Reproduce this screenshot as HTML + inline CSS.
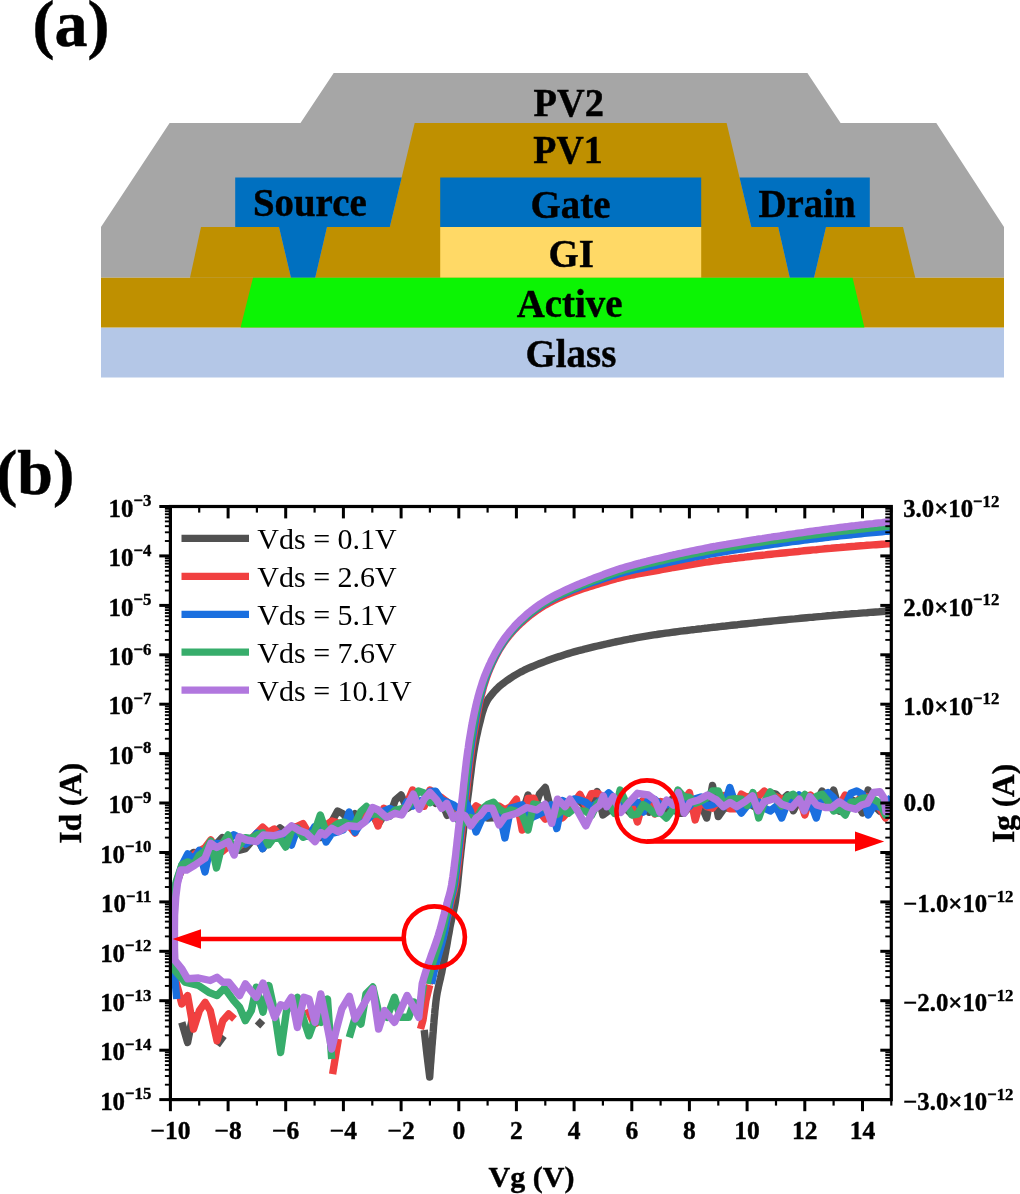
<!DOCTYPE html>
<html lang="en"><head><meta charset="utf-8"><title>TFT structure and transfer curves</title>
<style>html,body{margin:0;padding:0;background:#fff}body{width:1020px;height:1194px;overflow:hidden}svg{display:block}text{font-family:"Liberation Serif","Times New Roman",serif;fill:#000}.b{font-weight:bold;stroke:#000;stroke-width:0.5px}.lab{font-weight:bold;font-size:40px;text-anchor:middle;stroke:#000;stroke-width:0.45px}.tk{font-weight:bold;font-size:25.5px;stroke:#000;stroke-width:0.4px}.ax{font-weight:bold;font-size:30px;text-anchor:middle;stroke:#000;stroke-width:0.4px}.lg{font-size:30px}.cv{fill:none;stroke-width:7.4;stroke-linejoin:round;stroke-linecap:butt}</style></head><body>
<svg width="1020" height="1194" viewBox="0 0 1020 1194">
<rect width="1020" height="1194" fill="#fff"/>
<polygon points="101.0,327.6 1004.0,327.6 1004.0,377.4 101.0,377.4" fill="#B4C7E7"/>
<polygon points="101.0,277.8 101.0,227.1 169.6,123.0 300.5,123.0 333.7,73.0 807.4,73.0 840.6,123.0 936.3,123.0 1004.0,227.1 1004.0,277.8" fill="#A6A6A6"/>
<polygon points="101.0,277.8 1004.0,277.8 1004.0,327.6 101.0,327.6" fill="#BF9000"/>
<polygon points="190.0,277.8 201.0,227.1 279.0,227.1 291.0,277.8" fill="#BF9000"/>
<polygon points="814.0,277.8 826.0,227.1 903.0,227.1 915.3,277.8" fill="#BF9000"/>
<polygon points="315.2,277.8 327.0,227.1 389.8,227.1 414.7,123.0 726.6,123.0 751.3,227.1 778.2,227.1 789.8,277.8" fill="#BF9000"/>
<polygon points="235.2,177.4 401.7,177.4 389.8,227.1 327.0,227.1 315.2,277.8 291.0,277.8 279.0,227.1 235.2,227.1" fill="#0070C0"/>
<polygon points="739.5,177.4 869.8,177.4 869.8,227.1 826.0,227.1 814.0,277.8 789.8,277.8 778.2,227.1 751.3,227.1" fill="#0070C0"/>
<polygon points="440.2,177.4 701.2,177.4 701.2,227.1 440.2,227.1" fill="#0070C0"/>
<polygon points="440.2,227.1 701.2,227.1 701.2,277.8 440.2,277.8" fill="#FFD966"/>
<polygon points="240.6,327.6 253.0,277.8 852.6,277.8 864.4,327.6" fill="#0CF404"/>
<text class="lab" transform="translate(568.8,115.8) scale(0.960,1)">PV2</text>
<text class="lab" transform="translate(568.0,162.8) scale(0.945,1)">PV1</text>
<text class="lab" transform="translate(570.5,217.5) scale(0.972,1)">Gate</text>
<text class="lab" transform="translate(571.3,266.8) scale(0.972,1)">GI</text>
<text class="lab" transform="translate(569.6,316.8) scale(0.972,1)">Active</text>
<text class="lab" transform="translate(570.9,366.6) scale(0.972,1)">Glass</text>
<text class="lab" transform="translate(309.8,216.0) scale(0.972,1)">Source</text>
<text class="lab" transform="translate(807.0,216.7) scale(0.972,1)">Drain</text>
<text class="b" x="32.6" y="46.2" font-size="66">(a)</text>
<text class="b" x="-4" y="493.8" font-size="64">(b)</text>
<defs><clipPath id="pc"><rect x="170.4" y="506.5" width="719.9" height="593.1"/></clipPath></defs>
<g clip-path="url(#pc)">
<path class="cv" d="M170.4 943.4 L176.2 884.1 L181.9 868.6 L187.7 858.0 L193.5 852.5 L199.2 853.0 L205.0 853.5 L210.8 856.2 L216.5 843.7 L222.3 837.6 L228.1 844.5 L233.8 845.1 L239.6 850.3 L245.4 848.7 L251.1 841.8 L256.9 837.9 L262.7 848.6 L268.4 839.1 L274.2 832.6 L280.0 827.9 L285.7 832.2 L291.5 833.3 L297.3 830.6 L303.0 830.8 L308.8 832.4 L314.6 834.9 L320.3 837.6 L326.1 833.6 L331.9 821.6 L337.6 811.0 L343.4 814.0 L349.2 821.6 L355.0 813.6 L360.7 816.9 L366.5 812.3 L372.3 814.3 L378.0 824.5 L383.8 815.7 L389.6 816.3 L395.3 800.0 L401.1 795.0 L406.9 808.5 L412.6 805.0 L418.4 805.1 L424.2 802.8 L429.9 795.2 L435.7 803.5 L441.5 800.8 L447.2 815.3 L453.0 809.5 L458.8 815.2 L464.5 813.1 L470.3 817.1 L476.1 810.2 L481.8 816.0 L487.6 818.0 L493.4 817.8 L499.1 816.4 L504.9 813.2 L510.7 807.2 L516.4 813.0 L522.2 813.3 L528.0 795.0 L533.7 810.4 L539.5 794.0 L545.3 787.5 L551.0 810.5 L556.8 809.3 L562.6 808.5 L568.3 803.8 L574.1 799.8 L579.9 801.3 L585.6 806.7 L591.4 813.1 L597.2 791.5 L602.9 815.0 L608.7 810.8 L614.5 809.8 L620.2 806.7 L626.0 808.6 L631.8 814.4 L637.5 805.4 L643.3 800.3 L649.1 812.2 L654.8 807.4 L660.6 809.4 L666.4 809.5 L672.1 799.1 L677.9 813.4 L683.7 813.3 L689.4 807.0 L695.2 807.7 L701.0 804.6 L706.7 818.0 L712.5 785.5 L718.3 816.5 L724.1 808.3 L729.8 807.9 L735.6 804.4 L741.4 796.0 L747.1 800.8 L752.9 805.7 L758.7 809.1 L764.4 803.0 L770.2 793.0 L776.0 794.1 L781.7 800.5 L787.5 795.0 L793.3 810.8 L799.0 799.9 L804.8 801.3 L810.6 805.1 L816.3 802.3 L822.1 791.0 L827.9 802.3 L833.6 790.0 L839.4 811.1 L845.2 800.4 L850.9 799.3 L856.7 802.2 L862.5 813.0 L868.2 790.0 L874.0 805.1 L879.8 811.2 L885.5 804.8 L891.3 812.7" stroke="#515151"/>
<path class="cv" d="M181.8 1022.4 L187.6 1042.5 L193.5 1012.0" stroke="#515151"/>
<path class="cv" d="M217.0 1045.0 L223.7 1035.8" stroke="#515151"/>
<path class="cv" d="M257.5 1026.0 L262.5 1020.5" stroke="#515151"/>
<path class="cv" d="M424.2 1030.0 L427.0 1055.0 L429.7 1077.0 L429.9 1074.0 L430.1 1071.0 L430.3 1068.0 L430.5 1065.0 L430.8 1061.9 L431.0 1058.9 L431.2 1055.9 L431.5 1052.9 L431.7 1049.9 L431.9 1046.9 L432.2 1043.9 L432.4 1040.9 L432.7 1037.9 L432.9 1034.8 L433.2 1031.8 L433.4 1028.8 L433.6 1025.8 L433.9 1022.8 L434.1 1019.8 L434.4 1016.8 L434.7 1013.8 L434.9 1010.7 L435.3 1007.7 L435.6 1004.7 L435.9 1001.8 L436.3 998.8 L436.7 995.8 L437.2 992.8 L437.8 989.9 L438.4 986.9 L439.1 984.0 L439.8 981.0 L440.5 978.1 L441.1 975.1 L441.8 972.2 L442.3 969.2 L442.9 966.2 L443.5 963.3 L444.0 960.3 L444.6 957.3 L445.1 954.4 L445.7 951.4 L446.2 948.4 L446.8 945.4 L447.3 942.5 L447.8 939.5 L448.3 936.5 L448.9 933.6 L449.4 930.6 L449.9 927.6 L450.5 924.6 L451.1 921.7 L451.7 918.7 L452.4 915.8 L453.1 912.8 L453.8 909.9 L454.4 906.9 L455.0 904.0 L455.5 901.0 L455.9 898.0 L456.3 895.1 L456.7 892.1 L457.0 889.1 L457.4 886.1 L457.7 883.1 L458.0 880.0 L458.3 877.0 L458.6 874.0 L458.9 871.0 L459.2 868.0 L459.5 865.0 L459.8 862.0 L460.1 859.0 L460.5 856.0 L460.8 853.0 L461.1 850.0 L461.5 847.0 L461.8 844.0 L462.2 841.0 L462.5 838.0 L462.9 835.0 L463.3 832.0 L463.6 829.0 L464.0 826.0 L464.4 823.0 L464.8 820.0 L465.2 817.0 L465.6 814.0 L466.0 811.0 L466.4 808.1 L466.8 805.1 L467.2 802.1 L467.6 799.1 L468.0 796.1 L468.4 793.1 L468.8 790.1 L469.1 787.1 L469.5 784.1 L469.8 781.1 L470.2 778.1 L470.6 775.1 L471.0 772.1 L471.3 769.1 L471.7 766.1 L472.1 763.1 L472.5 760.1 L473.0 757.1 L473.4 754.2 L473.9 751.2 L474.4 748.2 L474.9 745.2 L475.5 742.3 L476.0 739.3 L476.6 736.3 L477.3 733.4 L477.9 730.4 L478.6 727.5 L479.3 724.6 L480.1 721.6 L480.8 718.7 L481.5 715.7 L482.3 712.8 L483.2 710.0 L484.2 707.1 L485.4 704.3 L486.7 701.6 L488.2 699.0 L490.0 696.6 L491.9 694.2 L493.9 691.9 L495.9 689.7 L498.1 687.6 L500.3 685.6 L502.7 683.7 L505.1 681.9 L507.6 680.1 L510.1 678.4 L512.6 676.7 L515.2 675.1 L517.8 673.6 L520.4 672.1 L523.1 670.8 L525.8 669.4 L528.5 668.2 L531.3 667.0 L534.1 665.8 L536.9 664.6 L539.7 663.5 L542.5 662.5 L545.4 661.4 L548.2 660.3 L551.0 659.3 L553.9 658.3 L556.7 657.3 L559.6 656.4 L562.5 655.4 L565.3 654.5 L568.2 653.6 L571.1 652.7 L574.0 651.9 L576.9 651.1 L579.8 650.3 L582.8 649.6 L585.7 648.8 L588.6 648.1 L591.6 647.4 L594.5 646.7 L597.4 646.0 L600.4 645.3 L603.3 644.7 L606.3 644.0 L609.2 643.3 L612.2 642.7 L615.1 642.0 L618.1 641.4 L621.0 640.8 L624.0 640.2 L627.0 639.6 L629.9 639.0 L632.9 638.5 L635.9 637.9 L638.8 637.4 L641.8 636.9 L644.8 636.4 L647.8 635.9 L650.7 635.4 L653.7 634.9 L656.7 634.5 L659.7 634.0 L662.7 633.6 L665.7 633.2 L668.7 632.8 L671.7 632.4 L674.7 632.0 L677.6 631.6 L680.6 631.2 L683.6 630.8 L686.6 630.5 L689.6 630.1 L692.6 629.7 L695.6 629.4 L698.6 629.0 L701.6 628.7 L704.6 628.3 L707.6 628.0 L710.6 627.6 L713.6 627.3 L716.6 627.0 L719.6 626.6 L722.6 626.3 L725.6 626.0 L728.6 625.6 L731.6 625.3 L734.6 625.0 L737.6 624.7 L740.6 624.3 L743.6 624.0 L746.6 623.7 L749.6 623.4 L752.6 623.1 L755.7 622.8 L758.7 622.4 L761.7 622.1 L764.7 621.8 L767.7 621.5 L770.7 621.2 L773.7 620.9 L776.7 620.6 L779.7 620.3 L782.7 620.0 L785.7 619.7 L788.7 619.4 L791.7 619.1 L794.7 618.9 L797.7 618.6 L800.7 618.3 L803.7 618.0 L806.7 617.7 L809.7 617.4 L812.7 617.2 L815.8 616.9 L818.8 616.6 L821.8 616.4 L824.8 616.1 L827.8 615.8 L830.8 615.6 L833.8 615.3 L836.8 615.1 L839.8 614.8 L842.8 614.6 L845.8 614.3 L848.8 614.1 L851.9 613.8 L854.9 613.6 L857.9 613.4 L860.9 613.1 L863.9 612.9 L866.9 612.7 L869.9 612.4 L872.9 612.2 L875.9 612.0 L879.0 611.8 L882.0 611.5 L885.0 611.3 L888.0 611.1 L891.0 610.9" stroke="#515151"/>
<path class="cv" d="M170.4 947.8 L176.2 883.7 L181.9 867.6 L187.7 862.5 L193.5 854.8 L199.2 851.1 L205.0 847.7 L210.8 840.0 L216.5 849.1 L222.3 851.5 L228.1 846.7 L233.8 849.1 L239.6 845.9 L245.4 842.4 L251.1 838.8 L256.9 833.0 L262.7 827.2 L268.4 832.4 L274.2 829.0 L280.0 835.5 L285.7 835.7 L291.5 827.0 L297.3 826.3 L303.0 823.6 L308.8 833.3 L314.6 830.7 L320.3 830.7 L326.1 825.1 L331.9 821.0 L337.6 822.8 L343.4 824.4 L349.2 825.9 L355.0 833.0 L360.7 818.5 L366.5 812.2 L372.3 810.0 L378.0 826.0 L383.8 808.2 L389.6 811.2 L395.3 813.5 L401.1 810.6 L406.9 804.0 L412.6 790.0 L418.4 805.0 L424.2 806.3 L429.9 790.0 L435.7 794.6 L441.5 797.6 L447.2 802.0 L453.0 811.9 L458.8 811.4 L464.5 816.1 L470.3 814.3 L476.1 805.9 L481.8 809.2 L487.6 812.8 L493.4 813.2 L499.1 806.0 L504.9 809.8 L510.7 806.7 L516.4 799.1 L522.2 830.0 L528.0 798.4 L533.7 798.2 L539.5 811.8 L545.3 819.1 L551.0 816.6 L556.8 812.2 L562.6 817.8 L568.3 811.6 L574.1 802.4 L579.9 794.5 L585.6 805.5 L591.4 793.6 L597.2 793.2 L602.9 796.4 L608.7 801.1 L614.5 798.0 L620.2 806.6 L626.0 803.7 L631.8 804.2 L637.5 822.0 L643.3 800.5 L649.1 802.8 L654.8 813.9 L660.6 801.5 L666.4 802.7 L672.1 805.0 L677.9 800.2 L683.7 801.0 L689.4 792.6 L695.2 820.0 L701.0 799.8 L706.7 806.7 L712.5 808.2 L718.3 800.9 L724.1 795.6 L729.8 808.9 L735.6 808.7 L741.4 794.2 L747.1 797.2 L752.9 795.4 L758.7 796.2 L764.4 791.0 L770.2 795.7 L776.0 796.8 L781.7 798.7 L787.5 806.0 L793.3 804.3 L799.0 796.2 L804.8 815.0 L810.6 795.1 L816.3 805.3 L822.1 796.0 L827.9 800.7 L833.6 807.3 L839.4 805.9 L845.2 795.0 L850.9 803.3 L856.7 801.8 L862.5 795.9 L868.2 797.4 L874.0 801.0 L879.8 808.3 L885.5 818.0 L891.3 801.9" stroke="#F14040"/>
<path class="cv" d="M174.0 975.0 L178.4 990.5 L181.8 1004.0 L187.6 995.6 L193.5 1029.0 L199.4 1010.7 L205.2 1002.3 L210.3 1010.7 L217.0 1040.8 L222.8 1020.7 L228.7 1014.0 L234.5 1019.0" stroke="#F14040"/>
<path class="cv" d="M332.6 1074.2 L338.4 1039.0" stroke="#F14040"/>
<path class="cv" d="M307.4 1009.0 L315.8 1027.4" stroke="#F14040"/>
<path class="cv" d="M420.5 1029.0 L423.0 1020.0 L426.0 1000.0 L429.7 985.0" stroke="#F14040"/>
<path class="cv" d="M429.3 983.8 L430.0 980.9 L430.7 978.0 L431.5 975.1 L432.2 972.2 L433.0 969.3 L433.8 966.4 L434.6 963.6 L435.5 960.7 L436.4 957.9 L437.3 955.0 L438.2 952.2 L439.1 949.4 L440.1 946.5 L441.0 943.7 L441.9 940.8 L442.7 938.0 L443.5 935.1 L444.2 932.2 L444.9 929.3 L445.6 926.4 L446.3 923.5 L446.9 920.5 L447.6 917.6 L448.2 914.7 L448.8 911.8 L449.5 908.8 L450.1 905.9 L450.8 903.0 L451.4 900.1 L452.3 897.2 L453.1 894.3 L453.9 891.3 L454.5 888.4 L455.1 885.4 L455.6 882.5 L456.0 879.5 L456.5 876.5 L456.9 873.5 L457.3 870.5 L457.7 867.5 L458.0 864.5 L458.4 861.5 L458.8 858.5 L459.2 855.5 L459.5 852.5 L459.8 849.5 L460.2 846.5 L460.5 843.5 L460.8 840.5 L461.2 837.5 L461.5 834.5 L461.8 831.5 L462.2 828.5 L462.5 825.5 L462.9 822.5 L463.3 819.5 L463.6 816.5 L464.0 813.5 L464.3 810.5 L464.7 807.5 L465.1 804.5 L465.4 801.5 L465.8 798.5 L466.1 795.5 L466.5 792.5 L466.8 789.5 L467.1 786.5 L467.4 783.5 L467.8 780.5 L468.1 777.5 L468.4 774.5 L468.8 771.5 L469.1 768.5 L469.5 765.5 L469.8 762.5 L470.2 759.5 L470.6 756.5 L471.0 753.5 L471.4 750.5 L471.9 747.5 L472.3 744.5 L472.7 741.5 L473.2 738.5 L473.7 735.6 L474.2 732.6 L474.7 729.6 L475.2 726.6 L475.8 723.6 L476.3 720.7 L476.8 717.7 L477.3 714.8 L477.9 711.8 L478.4 708.9 L479.0 705.9 L479.6 703.0 L480.3 700.0 L480.9 697.1 L481.6 694.2 L482.4 691.3 L483.1 688.4 L483.9 685.6 L484.8 682.8 L485.7 680.0 L486.6 677.3 L487.7 674.5 L488.7 671.8 L489.8 669.1 L491.0 666.4 L492.1 663.8 L493.4 661.2 L494.6 658.6 L495.9 656.0 L497.3 653.4 L498.7 650.9 L500.2 648.4 L501.8 646.0 L503.3 643.6 L505.0 641.2 L506.6 639.0 L508.4 636.7 L510.2 634.5 L512.1 632.3 L514.0 630.1 L516.0 628.1 L518.0 626.0 L520.1 624.0 L522.2 622.2 L524.3 620.3 L526.5 618.4 L528.7 616.5 L531.0 614.7 L533.4 613.0 L535.8 611.3 L538.2 609.6 L540.7 608.0 L543.1 606.4 L545.6 604.9 L548.2 603.5 L550.8 602.1 L553.4 600.8 L556.1 599.5 L558.8 598.2 L561.5 597.0 L564.3 595.9 L567.0 594.7 L569.8 593.6 L572.5 592.5 L575.3 591.5 L578.1 590.5 L580.9 589.5 L583.7 588.6 L586.5 587.7 L589.3 586.8 L592.1 585.9 L594.9 585.0 L597.8 584.1 L600.6 583.3 L603.4 582.4 L606.2 581.6 L609.1 580.7 L611.9 579.9 L614.8 579.1 L617.6 578.3 L620.5 577.6 L623.4 576.9 L626.3 576.2 L629.2 575.6 L632.1 575.0 L635.0 574.5 L637.9 573.9 L640.8 573.4 L643.8 572.8 L646.7 572.3 L649.6 571.8 L652.6 571.3 L655.5 570.8 L658.4 570.3 L661.4 569.7 L664.3 569.2 L667.3 568.6 L670.2 568.1 L673.1 567.5 L676.1 567.0 L679.0 566.5 L682.0 566.0 L684.9 565.5 L687.9 565.0 L690.9 564.5 L693.8 564.0 L696.8 563.6 L699.7 563.1 L702.7 562.6 L705.7 562.2 L708.6 561.8 L711.6 561.3 L714.6 560.9 L717.5 560.5 L720.5 560.1 L723.5 559.7 L726.5 559.3 L729.4 559.0 L732.4 558.6 L735.4 558.2 L738.4 557.9 L741.3 557.5 L744.3 557.2 L747.3 556.8 L750.3 556.5 L753.3 556.1 L756.3 555.8 L759.2 555.5 L762.2 555.2 L765.2 554.9 L768.2 554.5 L771.2 554.2 L774.2 553.9 L777.2 553.6 L780.2 553.3 L783.1 553.0 L786.1 552.7 L789.1 552.4 L792.1 552.1 L795.1 551.8 L798.1 551.5 L801.1 551.1 L804.1 550.8 L807.1 550.5 L810.0 550.2 L813.0 549.9 L816.0 549.7 L819.0 549.4 L822.0 549.1 L825.0 548.8 L828.0 548.5 L831.0 548.3 L834.0 548.0 L837.0 547.7 L840.0 547.5 L843.0 547.2 L846.0 547.0 L849.0 546.7 L852.0 546.5 L855.0 546.3 L858.0 546.0 L861.0 545.8 L864.0 545.6 L867.0 545.3 L870.0 545.1 L873.0 544.9 L876.0 544.7 L879.0 544.5 L882.0 544.3 L885.0 544.1 L888.0 543.9 L891.0 543.7" stroke="#F14040"/>
<path class="cv" d="M170.4 944.8 L176.2 883.6 L181.9 865.3 L187.7 853.9 L193.5 859.5 L199.2 850.4 L205.0 872.0 L210.8 844.4 L216.5 843.5 L222.3 843.8 L228.1 840.1 L233.8 834.7 L239.6 837.7 L245.4 844.1 L251.1 840.3 L256.9 833.2 L262.7 848.6 L268.4 837.1 L274.2 837.2 L280.0 833.5 L285.7 837.4 L291.5 845.0 L297.3 828.3 L303.0 836.5 L308.8 836.1 L314.6 826.7 L320.3 824.6 L326.1 842.0 L331.9 833.3 L337.6 831.8 L343.4 829.7 L349.2 812.0 L355.0 832.1 L360.7 823.7 L366.5 820.4 L372.3 814.9 L378.0 812.5 L383.8 811.2 L389.6 808.5 L395.3 810.9 L401.1 813.7 L406.9 801.8 L412.6 806.0 L418.4 801.4 L424.2 799.4 L429.9 791.4 L435.7 791.3 L441.5 800.0 L447.2 802.3 L453.0 804.6 L458.8 808.7 L464.5 800.0 L470.3 810.9 L476.1 832.0 L481.8 819.1 L487.6 815.5 L493.4 812.1 L499.1 811.0 L504.9 838.0 L510.7 808.1 L516.4 806.5 L522.2 804.7 L528.0 820.4 L533.7 816.5 L539.5 814.0 L545.3 811.2 L551.0 804.9 L556.8 828.5 L562.6 800.6 L568.3 803.1 L574.1 799.0 L579.9 800.1 L585.6 802.2 L591.4 807.1 L597.2 803.2 L602.9 798.4 L608.7 792.8 L614.5 798.4 L620.2 805.9 L626.0 804.5 L631.8 802.1 L637.5 802.1 L643.3 812.0 L649.1 797.7 L654.8 799.6 L660.6 804.8 L666.4 804.9 L672.1 803.0 L677.9 806.1 L683.7 796.3 L689.4 806.6 L695.2 798.8 L701.0 797.1 L706.7 805.7 L712.5 804.6 L718.3 802.2 L724.1 806.6 L729.8 787.5 L735.6 804.8 L741.4 813.0 L747.1 805.7 L752.9 803.8 L758.7 801.9 L764.4 808.2 L770.2 811.0 L776.0 806.4 L781.7 818.0 L787.5 802.6 L793.3 802.5 L799.0 794.9 L804.8 809.8 L810.6 802.5 L816.3 818.0 L822.1 795.4 L827.9 792.5 L833.6 797.6 L839.4 805.6 L845.2 805.6 L850.9 793.2 L856.7 791.0 L862.5 794.3 L868.2 815.0 L874.0 805.6 L879.8 807.1 L885.5 806.6 L891.3 797.0" stroke="#1A6FDF"/>
<path class="cv" d="M173.5 965.0 L175.0 980.5 L176.8 999.0" stroke="#1A6FDF"/>
<path class="cv" d="M431.6 983.8 L432.2 980.9 L432.8 978.0 L433.4 975.1 L434.0 972.2 L434.7 969.3 L435.4 966.4 L436.1 963.6 L436.9 960.7 L437.7 957.9 L438.5 955.0 L439.3 952.2 L440.1 949.4 L440.9 946.5 L441.7 943.7 L442.4 940.8 L443.2 938.0 L443.8 935.1 L444.5 932.2 L445.1 929.3 L445.6 926.4 L446.2 923.5 L446.7 920.5 L447.2 917.6 L447.8 914.7 L448.3 911.8 L448.8 908.8 L449.4 905.9 L449.9 903.0 L450.5 900.1 L451.3 897.2 L452.1 894.3 L452.9 891.3 L453.5 888.4 L454.1 885.4 L454.6 882.5 L455.0 879.5 L455.5 876.5 L455.9 873.5 L456.3 870.5 L456.7 867.5 L457.0 864.5 L457.4 861.5 L457.8 858.5 L458.2 855.5 L458.5 852.5 L458.8 849.5 L459.2 846.5 L459.5 843.5 L459.8 840.5 L460.2 837.5 L460.5 834.5 L460.8 831.5 L461.2 828.5 L461.5 825.5 L461.9 822.5 L462.3 819.5 L462.6 816.5 L463.0 813.5 L463.3 810.5 L463.7 807.5 L464.1 804.5 L464.4 801.5 L464.8 798.5 L465.1 795.5 L465.5 792.5 L465.8 789.5 L466.1 786.5 L466.4 783.5 L466.8 780.5 L467.1 777.5 L467.4 774.5 L467.8 771.5 L468.1 768.5 L468.5 765.5 L468.8 762.5 L469.2 759.5 L469.6 756.5 L470.0 753.5 L470.4 750.5 L470.9 747.5 L471.3 744.5 L471.7 741.5 L472.2 738.5 L472.7 735.6 L473.2 732.6 L473.7 729.6 L474.2 726.6 L474.8 723.6 L475.3 720.7 L475.8 717.7 L476.4 714.8 L476.9 711.8 L477.5 708.9 L478.1 705.9 L478.8 703.0 L479.4 700.0 L480.1 697.1 L480.8 694.2 L481.6 691.3 L482.4 688.4 L483.2 685.6 L484.1 682.7 L485.0 679.9 L486.0 677.2 L487.0 674.4 L488.1 671.6 L489.3 668.9 L490.4 666.2 L491.6 663.5 L492.9 660.9 L494.1 658.2 L495.5 655.6 L496.9 653.0 L498.3 650.5 L499.8 647.9 L501.4 645.5 L503.0 643.0 L504.6 640.6 L506.3 638.3 L508.1 635.9 L509.9 633.6 L511.8 631.4 L513.8 629.2 L515.8 627.0 L517.8 624.9 L519.9 622.8 L522.0 620.9 L524.1 618.9 L526.4 617.0 L528.6 615.1 L531.0 613.2 L533.3 611.4 L535.7 609.6 L538.2 607.9 L540.6 606.2 L543.1 604.6 L545.6 603.0 L548.2 601.5 L550.8 600.1 L553.4 598.7 L556.1 597.3 L558.8 596.0 L561.5 594.7 L564.3 593.5 L567.0 592.3 L569.8 591.1 L572.5 589.9 L575.3 588.8 L578.1 587.7 L580.9 586.6 L583.7 585.6 L586.5 584.6 L589.3 583.6 L592.1 582.6 L594.9 581.7 L597.8 580.7 L600.6 579.7 L603.4 578.8 L606.2 577.8 L609.1 576.9 L611.9 576.0 L614.8 575.1 L617.6 574.2 L620.5 573.4 L623.4 572.6 L626.3 571.8 L629.2 571.1 L632.1 570.4 L635.0 569.7 L637.9 569.1 L640.8 568.4 L643.8 567.8 L646.7 567.2 L649.6 566.6 L652.6 565.9 L655.5 565.3 L658.4 564.7 L661.4 564.1 L664.3 563.4 L667.3 562.7 L670.2 562.1 L673.1 561.5 L676.1 560.8 L679.0 560.2 L682.0 559.6 L684.9 559.0 L687.9 558.4 L690.9 557.8 L693.8 557.2 L696.8 556.6 L699.7 556.1 L702.7 555.5 L705.7 554.9 L708.6 554.4 L711.6 553.9 L714.6 553.3 L717.5 552.8 L720.5 552.3 L723.5 551.8 L726.5 551.3 L729.4 550.8 L732.4 550.4 L735.4 549.9 L738.4 549.4 L741.3 549.0 L744.3 548.5 L747.3 548.1 L750.3 547.6 L753.3 547.2 L756.3 546.7 L759.2 546.3 L762.2 545.9 L765.2 545.4 L768.2 545.0 L771.2 544.6 L774.2 544.2 L777.2 543.8 L780.2 543.4 L783.1 542.9 L786.1 542.5 L789.1 542.1 L792.1 541.7 L795.1 541.3 L798.1 541.0 L801.1 540.6 L804.1 540.2 L807.1 539.8 L810.0 539.4 L813.0 539.1 L816.0 538.7 L819.0 538.4 L822.0 538.0 L825.0 537.6 L828.0 537.3 L831.0 536.9 L834.0 536.6 L837.0 536.3 L840.0 535.9 L843.0 535.6 L846.0 535.3 L849.0 535.0 L852.0 534.7 L855.0 534.3 L858.0 534.0 L861.0 533.7 L864.0 533.4 L867.0 533.1 L870.0 532.8 L873.0 532.6 L876.0 532.3 L879.0 532.0 L882.0 531.7 L885.0 531.4 L888.0 531.2 L891.0 530.9" stroke="#1A6FDF"/>
<path class="cv" d="M170.4 943.0 L176.2 881.6 L181.9 864.6 L187.7 861.9 L193.5 864.9 L199.2 855.2 L205.0 850.9 L210.8 841.2 L216.5 868.0 L222.3 843.9 L228.1 835.0 L233.8 853.4 L239.6 845.2 L245.4 837.7 L251.1 838.4 L256.9 835.0 L262.7 832.8 L268.4 845.0 L274.2 837.2 L280.0 838.3 L285.7 847.0 L291.5 830.7 L297.3 828.3 L303.0 837.3 L308.8 835.0 L314.6 832.0 L320.3 815.0 L326.1 832.3 L331.9 828.0 L337.6 823.8 L343.4 822.0 L349.2 824.5 L355.0 823.8 L360.7 811.8 L366.5 806.4 L372.3 814.2 L378.0 813.8 L383.8 816.9 L389.6 815.9 L395.3 810.0 L401.1 808.8 L406.9 807.6 L412.6 800.6 L418.4 791.0 L424.2 793.0 L429.9 802.7 L435.7 799.5 L441.5 806.4 L447.2 808.0 L453.0 814.7 L458.8 820.8 L464.5 822.8 L470.3 817.5 L476.1 819.6 L481.8 809.3 L487.6 804.5 L493.4 802.3 L499.1 808.7 L504.9 812.8 L510.7 809.9 L516.4 811.3 L522.2 814.5 L528.0 830.0 L533.7 804.0 L539.5 805.2 L545.3 808.3 L551.0 813.0 L556.8 814.5 L562.6 810.1 L568.3 813.3 L574.1 808.7 L579.9 810.9 L585.6 811.1 L591.4 815.6 L597.2 803.8 L602.9 799.6 L608.7 803.6 L614.5 813.4 L620.2 790.0 L626.0 802.7 L631.8 815.0 L637.5 814.2 L643.3 804.6 L649.1 808.4 L654.8 813.5 L660.6 812.5 L666.4 818.0 L672.1 810.5 L677.9 790.0 L683.7 796.6 L689.4 797.3 L695.2 803.2 L701.0 801.0 L706.7 797.9 L712.5 791.0 L718.3 791.0 L724.1 805.0 L729.8 799.4 L735.6 798.6 L741.4 799.1 L747.1 805.4 L752.9 792.7 L758.7 818.0 L764.4 802.0 L770.2 792.0 L776.0 799.0 L781.7 806.0 L787.5 796.4 L793.3 794.2 L799.0 801.9 L804.8 794.4 L810.6 800.3 L816.3 796.5 L822.1 794.2 L827.9 801.2 L833.6 810.9 L839.4 808.9 L845.2 815.0 L850.9 802.2 L856.7 801.7 L862.5 798.2 L868.2 797.9 L874.0 799.5 L879.8 802.9 L885.5 815.0 L891.3 805.0" stroke="#37AD6B"/>
<path class="cv" d="M172.5 955.0 L175.0 970.5 L185.0 982.2 L198.5 985.5 L208.6 992.2 L217.0 995.6 L224.5 988.0 L233.7 1000.6 L239.6 1007.3 L245.4 1020.7 L251.3 1010.7 L256.3 987.2 L263.0 1012.3 L268.9 985.5 L274.7 1012.3 L280.6 1052.5 L286.5 1010.7 L297.4 997.3 L304.0 1020.7 L309.0 1035.8 L315.0 1019.0 L320.8 1022.4 L327.5 999.0 L331.7 1059.0" stroke="#37AD6B"/>
<path class="cv" d="M349.3 1037.4 L355.2 1017.3 L361.0 1024.0 L366.0 993.8 L372.8 987.0 L378.6 1012.0 L387.0 1017.3 L394.5 997.2 L400.4 1017.3 L408.8 1017.3 L414.0 1002.0 L419.0 1012.0 L423.5 985.0" stroke="#37AD6B"/>
<path class="cv" d="M427.2 983.8 L427.8 980.9 L428.5 978.0 L429.3 975.1 L430.0 972.2 L430.8 969.3 L431.6 966.4 L432.5 963.6 L433.4 960.7 L434.3 957.9 L435.2 955.0 L436.1 952.2 L437.0 949.4 L438.0 946.5 L438.9 943.7 L439.8 940.8 L440.6 938.0 L441.4 935.1 L442.1 932.2 L442.8 929.3 L443.6 926.4 L444.2 923.5 L444.9 920.5 L445.5 917.6 L446.2 914.7 L446.8 911.8 L447.5 908.8 L448.1 905.9 L448.8 903.0 L449.4 900.1 L450.3 897.2 L451.1 894.3 L451.9 891.3 L452.5 888.4 L453.1 885.4 L453.6 882.5 L454.0 879.5 L454.5 876.5 L454.9 873.5 L455.3 870.5 L455.7 867.5 L456.0 864.5 L456.4 861.5 L456.8 858.5 L457.2 855.5 L457.5 852.5 L457.8 849.5 L458.2 846.5 L458.5 843.5 L458.8 840.5 L459.2 837.5 L459.5 834.5 L459.8 831.5 L460.2 828.5 L460.5 825.5 L460.9 822.5 L461.3 819.5 L461.6 816.5 L462.0 813.5 L462.3 810.5 L462.7 807.5 L463.1 804.5 L463.4 801.5 L463.8 798.5 L464.1 795.5 L464.5 792.5 L464.8 789.5 L465.1 786.5 L465.4 783.5 L465.8 780.5 L466.1 777.5 L466.4 774.5 L466.8 771.5 L467.1 768.5 L467.5 765.5 L467.8 762.5 L468.2 759.5 L468.6 756.5 L469.0 753.5 L469.4 750.5 L469.9 747.5 L470.3 744.5 L470.7 741.5 L471.2 738.5 L471.7 735.6 L472.2 732.6 L472.7 729.6 L473.2 726.6 L473.8 723.6 L474.3 720.7 L474.9 717.7 L475.4 714.8 L476.0 711.8 L476.6 708.9 L477.2 705.9 L477.9 703.0 L478.6 700.0 L479.3 697.1 L480.1 694.2 L480.8 691.3 L481.7 688.4 L482.5 685.5 L483.4 682.7 L484.4 679.9 L485.4 677.1 L486.4 674.3 L487.5 671.5 L488.7 668.8 L489.9 666.1 L491.1 663.4 L492.4 660.7 L493.7 658.0 L495.0 655.4 L496.4 652.8 L497.9 650.2 L499.4 647.7 L501.0 645.1 L502.6 642.7 L504.3 640.3 L506.0 637.9 L507.8 635.6 L509.7 633.3 L511.6 631.0 L513.5 628.7 L515.6 626.6 L517.6 624.4 L519.7 622.4 L521.8 620.4 L524.0 618.4 L526.2 616.4 L528.5 614.5 L530.9 612.6 L533.2 610.8 L535.7 609.0 L538.1 607.2 L540.6 605.5 L543.1 603.9 L545.6 602.3 L548.2 600.8 L550.8 599.3 L553.4 597.9 L556.1 596.5 L558.8 595.1 L561.5 593.8 L564.3 592.6 L567.0 591.3 L569.8 590.1 L572.5 588.9 L575.3 587.7 L578.1 586.6 L580.9 585.4 L583.7 584.3 L586.5 583.2 L589.3 582.2 L592.1 581.1 L594.9 580.1 L597.8 579.0 L600.6 578.0 L603.4 577.0 L606.2 575.9 L609.1 574.9 L611.9 573.9 L614.8 573.0 L617.6 572.0 L620.5 571.1 L623.4 570.2 L626.3 569.4 L629.2 568.6 L632.1 567.8 L635.0 567.1 L637.9 566.3 L640.8 565.6 L643.8 564.9 L646.7 564.2 L649.6 563.5 L652.6 562.8 L655.5 562.1 L658.4 561.5 L661.4 560.8 L664.3 560.1 L667.3 559.4 L670.2 558.7 L673.1 558.1 L676.1 557.4 L679.0 556.8 L682.0 556.2 L684.9 555.6 L687.9 554.9 L690.9 554.3 L693.8 553.7 L696.8 553.1 L699.7 552.5 L702.7 552.0 L705.7 551.4 L708.6 550.8 L711.6 550.3 L714.6 549.7 L717.5 549.2 L720.5 548.7 L723.5 548.2 L726.5 547.7 L729.4 547.2 L732.4 546.7 L735.4 546.2 L738.4 545.7 L741.3 545.2 L744.3 544.8 L747.3 544.3 L750.3 543.8 L753.3 543.4 L756.3 542.9 L759.2 542.5 L762.2 542.0 L765.2 541.6 L768.2 541.1 L771.2 540.7 L774.2 540.3 L777.2 539.8 L780.2 539.4 L783.1 539.0 L786.1 538.6 L789.1 538.1 L792.1 537.7 L795.1 537.3 L798.1 536.9 L801.1 536.5 L804.1 536.1 L807.1 535.7 L810.0 535.2 L813.0 534.9 L816.0 534.5 L819.0 534.1 L822.0 533.7 L825.0 533.3 L828.0 532.9 L831.0 532.5 L834.0 532.2 L837.0 531.8 L840.0 531.4 L843.0 531.1 L846.0 530.7 L849.0 530.4 L852.0 530.0 L855.0 529.7 L858.0 529.4 L861.0 529.0 L864.0 528.7 L867.0 528.4 L870.0 528.1 L873.0 527.7 L876.0 527.4 L879.0 527.1 L882.0 526.8 L885.0 526.5 L888.0 526.2 L891.0 525.9" stroke="#37AD6B"/>
<path class="cv" d="M174.3 942.0 L174.6 915.0 L175.8 896.7 L177.5 883.3 L180.8 870.0 L186.7 870.0 L195.0 865.0 L205.0 858.3 L210.8 843.3 L216.7 847.5 L228.3 841.7 L234.2 855.0 L239.2 836.7 L246.7 840.0 L256.7 841.7 L263.3 835.0 L273.3 835.8 L283.3 833.3 L291.7 825.8 L298.3 830.0 L306.7 833.3 L315.0 841.7 L320.8 832.5 L325.0 835.0 L331.7 828.3 L338.3 831.7 L348.3 825.8 L358.3 826.7 L365.0 821.7 L372.5 807.5 L378.3 810.0 L386.7 817.5 L395.0 813.3 L401.7 815.0 L406.7 806.7 L413.3 794.2 L419.2 809.2 L424.2 799.2 L430.0 792.5 L436.7 800.0 L441.7 808.3 L446.7 803.3 L453.3 818.3 L460.0 813.3 L465.0 815.8 L470.8 825.8 L476.7 817.5 L480.0 815.8 L485.8 808.3 L492.5 808.3 L499.2 825.0 L505.0 816.7 L516.7 813.3 L526.7 807.5 L536.7 810.0 L545.0 804.2 L551.7 823.3 L557.5 799.2 L565.0 806.7 L570.0 799.2 L576.7 809.2 L585.8 825.8 L593.3 810.0 L600.0 805.0 L603.3 795.8 L606.7 806.7 L613.3 796.7 L620.8 812.5 L628.3 803.3 L637.5 793.3 L648.3 795.0 L655.0 800.0 L660.0 812.5 L666.7 800.0 L673.3 805.0 L678.3 792.5 L684.2 813.3 L690.0 802.5 L698.3 800.0 L707.5 795.0 L716.7 800.0 L723.3 806.7 L730.0 802.5 L736.7 806.7 L745.0 801.7 L752.5 795.8 L758.3 810.8 L764.2 801.7 L770.0 800.0 L775.0 798.3 L781.7 804.2 L791.7 807.5 L799.2 799.2 L804.2 810.8 L810.0 796.7 L816.7 805.0 L825.0 807.5 L831.7 807.5 L839.2 801.7 L846.7 806.7 L855.8 809.2 L861.7 805.0 L867.5 803.3 L873.3 792.5 L880.0 791.7 L884.2 798.3 L886.0 811.7 L891.0 806.0" stroke="#B177DE"/>
<path class="cv" d="M174.4 930.0 L174.5 950.0 L174.9 960.4 L181.8 968.8 L187.6 978.8 L198.5 978.0 L210.3 980.5 L217.0 977.2 L222.8 982.2 L228.7 982.2 L239.6 995.6 L245.4 983.9 L256.3 997.3 L263.0 983.0 L268.8 1000.0 L274.7 1017.4 L280.6 1004.8 L285.6 1006.5 L291.5 997.3 L297.4 1027.4 L304.0 997.3 L309.0 999.0 L315.0 1022.4 L320.8 993.9 L326.0 1020.0 L331.7 1049.0 L337.0 1027.0 L341.8 1008.9 L349.3 996.3 L355.2 1018.9 L361.0 1008.9 L366.9 998.8 L372.8 988.8 L378.6 1029.0 L384.5 1010.6 L394.5 1022.3 L400.4 1010.6 L407.1 995.5 L413.0 1006.0 L418.8 1017.3 L422.2 983.8 L423.0 980.9 L423.8 978.0 L424.7 975.1 L425.6 972.2 L426.5 969.3 L427.4 966.4 L428.3 963.6 L429.4 960.7 L430.4 957.9 L431.4 955.0 L432.4 952.2 L433.5 949.4 L434.5 946.5 L435.5 943.7 L436.5 940.8 L437.5 938.0 L438.4 935.1 L439.2 932.2 L440.1 929.3 L440.9 926.4 L441.7 923.5 L442.5 920.5 L443.2 917.6 L444.0 914.7 L444.7 911.8 L445.5 908.8 L446.3 905.9 L447.1 903.0 L447.8 900.1 L448.7 897.2 L449.5 894.3 L450.3 891.3 L450.9 888.4 L451.5 885.4 L452.0 882.5 L452.4 879.5 L452.9 876.5 L453.3 873.5 L453.7 870.5 L454.1 867.5 L454.4 864.5 L454.8 861.5 L455.2 858.5 L455.6 855.5 L455.9 852.5 L456.2 849.5 L456.6 846.5 L456.9 843.5 L457.2 840.5 L457.6 837.5 L457.9 834.5 L458.2 831.5 L458.6 828.5 L458.9 825.5 L459.3 822.5 L459.7 819.5 L460.0 816.5 L460.4 813.5 L460.7 810.5 L461.1 807.5 L461.5 804.5 L461.8 801.5 L462.2 798.5 L462.5 795.5 L462.9 792.5 L463.2 789.5 L463.5 786.5 L463.8 783.5 L464.2 780.5 L464.5 777.5 L464.8 774.5 L465.2 771.5 L465.5 768.5 L465.9 765.5 L466.2 762.5 L466.6 759.5 L467.0 756.5 L467.4 753.5 L467.8 750.5 L468.3 747.5 L468.7 744.5 L469.1 741.5 L469.6 738.5 L470.1 735.6 L470.6 732.6 L471.1 729.6 L471.6 726.6 L472.2 723.6 L472.7 720.7 L473.3 717.7 L473.9 714.8 L474.5 711.8 L475.2 708.9 L475.8 705.9 L476.5 703.0 L477.3 700.0 L478.0 697.1 L478.8 694.2 L479.6 691.3 L480.5 688.4 L481.4 685.5 L482.3 682.6 L483.3 679.8 L484.3 676.9 L485.4 674.1 L486.6 671.3 L487.8 668.5 L489.0 665.7 L490.3 663.0 L491.5 660.3 L492.9 657.6 L494.3 654.9 L495.7 652.2 L497.3 649.6 L498.8 647.0 L500.4 644.4 L502.1 641.9 L503.8 639.4 L505.5 637.0 L507.4 634.6 L509.2 632.2 L511.2 629.9 L513.2 627.6 L515.2 625.3 L517.3 623.1 L519.4 621.0 L521.6 618.9 L523.8 616.9 L526.0 614.9 L528.4 612.9 L530.7 611.0 L533.1 609.2 L535.6 607.3 L538.0 605.6 L540.5 603.8 L543.1 602.2 L545.6 600.6 L548.2 599.0 L550.8 597.5 L553.4 596.0 L556.1 594.6 L558.8 593.3 L561.5 592.0 L564.3 590.7 L567.0 589.4 L569.8 588.1 L572.5 586.9 L575.3 585.7 L578.1 584.5 L580.9 583.3 L583.7 582.2 L586.5 581.1 L589.3 580.0 L592.1 578.9 L594.9 577.8 L597.8 576.7 L600.6 575.7 L603.4 574.6 L606.2 573.6 L609.1 572.5 L611.9 571.5 L614.8 570.5 L617.6 569.5 L620.5 568.6 L623.4 567.7 L626.3 566.8 L629.2 566.0 L632.1 565.2 L635.0 564.4 L637.9 563.6 L640.8 562.9 L643.8 562.1 L646.7 561.4 L649.6 560.6 L652.6 559.9 L655.5 559.2 L658.4 558.5 L661.4 557.8 L664.3 557.1 L667.3 556.4 L670.2 555.7 L673.1 555.0 L676.1 554.4 L679.0 553.7 L682.0 553.1 L684.9 552.4 L687.9 551.8 L690.9 551.2 L693.8 550.6 L696.8 550.0 L699.7 549.4 L702.7 548.8 L705.7 548.2 L708.6 547.6 L711.6 547.0 L714.6 546.5 L717.5 545.9 L720.5 545.4 L723.5 544.9 L726.5 544.4 L729.4 543.8 L732.4 543.3 L735.4 542.8 L738.4 542.3 L741.3 541.9 L744.3 541.4 L747.3 540.9 L750.3 540.4 L753.3 539.9 L756.3 539.5 L759.2 539.0 L762.2 538.6 L765.2 538.1 L768.2 537.6 L771.2 537.2 L774.2 536.7 L777.2 536.3 L780.2 535.9 L783.1 535.4 L786.1 535.0 L789.1 534.5 L792.1 534.1 L795.1 533.7 L798.1 533.2 L801.1 532.8 L804.1 532.4 L807.1 531.9 L810.0 531.5 L813.0 531.1 L816.0 530.7 L819.0 530.3 L822.0 529.9 L825.0 529.5 L828.0 529.1 L831.0 528.7 L834.0 528.3 L837.0 527.9 L840.0 527.5 L843.0 527.1 L846.0 526.8 L849.0 526.4 L852.0 526.0 L855.0 525.7 L858.0 525.3 L861.0 524.9 L864.0 524.6 L867.0 524.2 L870.0 523.9 L873.0 523.6 L876.0 523.2 L879.0 522.9 L882.0 522.6 L885.0 522.2 L888.0 521.9 L891.0 521.6" stroke="#B177DE"/>
</g>
<circle cx="434.3" cy="937" r="30.6" fill="none" stroke="#FF0000" stroke-width="4.6"/>
<line x1="403.5" y1="939" x2="199" y2="939" stroke="#FF0000" stroke-width="4.6"/>
<polygon points="172.6,939 201,929.2 201,948.8" fill="#FF0000"/>
<circle cx="647" cy="811" r="30.6" fill="none" stroke="#FF0000" stroke-width="4.6"/>
<line x1="647" y1="841.5" x2="857" y2="841.5" stroke="#FF0000" stroke-width="4.6"/>
<polygon points="884.2,841.5 855,831.5 855,851.5" fill="#FF0000"/>
<rect x="170.4" y="506.5" width="720.9" height="593.1" fill="none" stroke="#000" stroke-width="3.2"/>
<line x1="170.4" y1="1099.6" x2="170.4" y2="1111.2" stroke="#000" stroke-width="3.0"/><line x1="170.4" y1="506.5" x2="170.4" y2="518.4" stroke="#000" stroke-width="3.0"/><line x1="199.2" y1="1099.6" x2="199.2" y2="1105.6" stroke="#000" stroke-width="2.2"/><line x1="199.2" y1="506.5" x2="199.2" y2="512.6" stroke="#000" stroke-width="2.2"/><line x1="228.1" y1="1099.6" x2="228.1" y2="1111.2" stroke="#000" stroke-width="3.0"/><line x1="228.1" y1="506.5" x2="228.1" y2="518.4" stroke="#000" stroke-width="3.0"/><line x1="256.9" y1="1099.6" x2="256.9" y2="1105.6" stroke="#000" stroke-width="2.2"/><line x1="256.9" y1="506.5" x2="256.9" y2="512.6" stroke="#000" stroke-width="2.2"/><line x1="285.7" y1="1099.6" x2="285.7" y2="1111.2" stroke="#000" stroke-width="3.0"/><line x1="285.7" y1="506.5" x2="285.7" y2="518.4" stroke="#000" stroke-width="3.0"/><line x1="314.6" y1="1099.6" x2="314.6" y2="1105.6" stroke="#000" stroke-width="2.2"/><line x1="314.6" y1="506.5" x2="314.6" y2="512.6" stroke="#000" stroke-width="2.2"/><line x1="343.4" y1="1099.6" x2="343.4" y2="1111.2" stroke="#000" stroke-width="3.0"/><line x1="343.4" y1="506.5" x2="343.4" y2="518.4" stroke="#000" stroke-width="3.0"/><line x1="372.3" y1="1099.6" x2="372.3" y2="1105.6" stroke="#000" stroke-width="2.2"/><line x1="372.3" y1="506.5" x2="372.3" y2="512.6" stroke="#000" stroke-width="2.2"/><line x1="401.1" y1="1099.6" x2="401.1" y2="1111.2" stroke="#000" stroke-width="3.0"/><line x1="401.1" y1="506.5" x2="401.1" y2="518.4" stroke="#000" stroke-width="3.0"/><line x1="429.9" y1="1099.6" x2="429.9" y2="1105.6" stroke="#000" stroke-width="2.2"/><line x1="429.9" y1="506.5" x2="429.9" y2="512.6" stroke="#000" stroke-width="2.2"/><line x1="458.8" y1="1099.6" x2="458.8" y2="1111.2" stroke="#000" stroke-width="3.0"/><line x1="458.8" y1="506.5" x2="458.8" y2="518.4" stroke="#000" stroke-width="3.0"/><line x1="487.6" y1="1099.6" x2="487.6" y2="1105.6" stroke="#000" stroke-width="2.2"/><line x1="487.6" y1="506.5" x2="487.6" y2="512.6" stroke="#000" stroke-width="2.2"/><line x1="516.4" y1="1099.6" x2="516.4" y2="1111.2" stroke="#000" stroke-width="3.0"/><line x1="516.4" y1="506.5" x2="516.4" y2="518.4" stroke="#000" stroke-width="3.0"/><line x1="545.3" y1="1099.6" x2="545.3" y2="1105.6" stroke="#000" stroke-width="2.2"/><line x1="545.3" y1="506.5" x2="545.3" y2="512.6" stroke="#000" stroke-width="2.2"/><line x1="574.1" y1="1099.6" x2="574.1" y2="1111.2" stroke="#000" stroke-width="3.0"/><line x1="574.1" y1="506.5" x2="574.1" y2="518.4" stroke="#000" stroke-width="3.0"/><line x1="602.9" y1="1099.6" x2="602.9" y2="1105.6" stroke="#000" stroke-width="2.2"/><line x1="602.9" y1="506.5" x2="602.9" y2="512.6" stroke="#000" stroke-width="2.2"/><line x1="631.8" y1="1099.6" x2="631.8" y2="1111.2" stroke="#000" stroke-width="3.0"/><line x1="631.8" y1="506.5" x2="631.8" y2="518.4" stroke="#000" stroke-width="3.0"/><line x1="660.6" y1="1099.6" x2="660.6" y2="1105.6" stroke="#000" stroke-width="2.2"/><line x1="660.6" y1="506.5" x2="660.6" y2="512.6" stroke="#000" stroke-width="2.2"/><line x1="689.4" y1="1099.6" x2="689.4" y2="1111.2" stroke="#000" stroke-width="3.0"/><line x1="689.4" y1="506.5" x2="689.4" y2="518.4" stroke="#000" stroke-width="3.0"/><line x1="718.3" y1="1099.6" x2="718.3" y2="1105.6" stroke="#000" stroke-width="2.2"/><line x1="718.3" y1="506.5" x2="718.3" y2="512.6" stroke="#000" stroke-width="2.2"/><line x1="747.1" y1="1099.6" x2="747.1" y2="1111.2" stroke="#000" stroke-width="3.0"/><line x1="747.1" y1="506.5" x2="747.1" y2="518.4" stroke="#000" stroke-width="3.0"/><line x1="776.0" y1="1099.6" x2="776.0" y2="1105.6" stroke="#000" stroke-width="2.2"/><line x1="776.0" y1="506.5" x2="776.0" y2="512.6" stroke="#000" stroke-width="2.2"/><line x1="804.8" y1="1099.6" x2="804.8" y2="1111.2" stroke="#000" stroke-width="3.0"/><line x1="804.8" y1="506.5" x2="804.8" y2="518.4" stroke="#000" stroke-width="3.0"/><line x1="833.6" y1="1099.6" x2="833.6" y2="1105.6" stroke="#000" stroke-width="2.2"/><line x1="833.6" y1="506.5" x2="833.6" y2="512.6" stroke="#000" stroke-width="2.2"/><line x1="862.5" y1="1099.6" x2="862.5" y2="1111.2" stroke="#000" stroke-width="3.0"/><line x1="862.5" y1="506.5" x2="862.5" y2="518.4" stroke="#000" stroke-width="3.0"/><line x1="891.3" y1="1099.6" x2="891.3" y2="1105.6" stroke="#000" stroke-width="2.2"/><line x1="891.3" y1="506.5" x2="891.3" y2="512.6" stroke="#000" stroke-width="2.2"/><line x1="170.4" y1="1099.6" x2="159.3" y2="1099.6" stroke="#000" stroke-width="3.0"/><line x1="891.3" y1="1099.6" x2="880.3" y2="1099.6" stroke="#000" stroke-width="3.0"/><line x1="170.4" y1="1084.7" x2="164.9" y2="1084.7" stroke="#000" stroke-width="1.9"/><line x1="891.3" y1="1084.7" x2="885.3" y2="1084.7" stroke="#000" stroke-width="1.9"/><line x1="170.4" y1="1076.0" x2="164.9" y2="1076.0" stroke="#000" stroke-width="1.9"/><line x1="891.3" y1="1076.0" x2="885.3" y2="1076.0" stroke="#000" stroke-width="1.9"/><line x1="170.4" y1="1069.8" x2="164.9" y2="1069.8" stroke="#000" stroke-width="1.9"/><line x1="891.3" y1="1069.8" x2="885.3" y2="1069.8" stroke="#000" stroke-width="1.9"/><line x1="170.4" y1="1065.1" x2="164.9" y2="1065.1" stroke="#000" stroke-width="1.9"/><line x1="891.3" y1="1065.1" x2="885.3" y2="1065.1" stroke="#000" stroke-width="1.9"/><line x1="170.4" y1="1061.1" x2="164.9" y2="1061.1" stroke="#000" stroke-width="1.9"/><line x1="891.3" y1="1061.1" x2="885.3" y2="1061.1" stroke="#000" stroke-width="1.9"/><line x1="170.4" y1="1057.8" x2="164.9" y2="1057.8" stroke="#000" stroke-width="1.9"/><line x1="891.3" y1="1057.8" x2="885.3" y2="1057.8" stroke="#000" stroke-width="1.9"/><line x1="170.4" y1="1055.0" x2="164.9" y2="1055.0" stroke="#000" stroke-width="1.9"/><line x1="891.3" y1="1055.0" x2="885.3" y2="1055.0" stroke="#000" stroke-width="1.9"/><line x1="170.4" y1="1052.4" x2="164.9" y2="1052.4" stroke="#000" stroke-width="1.9"/><line x1="891.3" y1="1052.4" x2="885.3" y2="1052.4" stroke="#000" stroke-width="1.9"/><line x1="170.4" y1="1050.2" x2="159.3" y2="1050.2" stroke="#000" stroke-width="3.0"/><line x1="891.3" y1="1050.2" x2="880.3" y2="1050.2" stroke="#000" stroke-width="3.0"/><line x1="170.4" y1="1035.3" x2="164.9" y2="1035.3" stroke="#000" stroke-width="1.9"/><line x1="891.3" y1="1035.3" x2="885.3" y2="1035.3" stroke="#000" stroke-width="1.9"/><line x1="170.4" y1="1026.6" x2="164.9" y2="1026.6" stroke="#000" stroke-width="1.9"/><line x1="891.3" y1="1026.6" x2="885.3" y2="1026.6" stroke="#000" stroke-width="1.9"/><line x1="170.4" y1="1020.4" x2="164.9" y2="1020.4" stroke="#000" stroke-width="1.9"/><line x1="891.3" y1="1020.4" x2="885.3" y2="1020.4" stroke="#000" stroke-width="1.9"/><line x1="170.4" y1="1015.6" x2="164.9" y2="1015.6" stroke="#000" stroke-width="1.9"/><line x1="891.3" y1="1015.6" x2="885.3" y2="1015.6" stroke="#000" stroke-width="1.9"/><line x1="170.4" y1="1011.7" x2="164.9" y2="1011.7" stroke="#000" stroke-width="1.9"/><line x1="891.3" y1="1011.7" x2="885.3" y2="1011.7" stroke="#000" stroke-width="1.9"/><line x1="170.4" y1="1008.4" x2="164.9" y2="1008.4" stroke="#000" stroke-width="1.9"/><line x1="891.3" y1="1008.4" x2="885.3" y2="1008.4" stroke="#000" stroke-width="1.9"/><line x1="170.4" y1="1005.5" x2="164.9" y2="1005.5" stroke="#000" stroke-width="1.9"/><line x1="891.3" y1="1005.5" x2="885.3" y2="1005.5" stroke="#000" stroke-width="1.9"/><line x1="170.4" y1="1003.0" x2="164.9" y2="1003.0" stroke="#000" stroke-width="1.9"/><line x1="891.3" y1="1003.0" x2="885.3" y2="1003.0" stroke="#000" stroke-width="1.9"/><line x1="170.4" y1="1000.7" x2="159.3" y2="1000.7" stroke="#000" stroke-width="3.0"/><line x1="891.3" y1="1000.7" x2="880.3" y2="1000.7" stroke="#000" stroke-width="3.0"/><line x1="170.4" y1="985.9" x2="164.9" y2="985.9" stroke="#000" stroke-width="1.9"/><line x1="891.3" y1="985.9" x2="885.3" y2="985.9" stroke="#000" stroke-width="1.9"/><line x1="170.4" y1="977.2" x2="164.9" y2="977.2" stroke="#000" stroke-width="1.9"/><line x1="891.3" y1="977.2" x2="885.3" y2="977.2" stroke="#000" stroke-width="1.9"/><line x1="170.4" y1="971.0" x2="164.9" y2="971.0" stroke="#000" stroke-width="1.9"/><line x1="891.3" y1="971.0" x2="885.3" y2="971.0" stroke="#000" stroke-width="1.9"/><line x1="170.4" y1="966.2" x2="164.9" y2="966.2" stroke="#000" stroke-width="1.9"/><line x1="891.3" y1="966.2" x2="885.3" y2="966.2" stroke="#000" stroke-width="1.9"/><line x1="170.4" y1="962.3" x2="164.9" y2="962.3" stroke="#000" stroke-width="1.9"/><line x1="891.3" y1="962.3" x2="885.3" y2="962.3" stroke="#000" stroke-width="1.9"/><line x1="170.4" y1="959.0" x2="164.9" y2="959.0" stroke="#000" stroke-width="1.9"/><line x1="891.3" y1="959.0" x2="885.3" y2="959.0" stroke="#000" stroke-width="1.9"/><line x1="170.4" y1="956.1" x2="164.9" y2="956.1" stroke="#000" stroke-width="1.9"/><line x1="891.3" y1="956.1" x2="885.3" y2="956.1" stroke="#000" stroke-width="1.9"/><line x1="170.4" y1="953.6" x2="164.9" y2="953.6" stroke="#000" stroke-width="1.9"/><line x1="891.3" y1="953.6" x2="885.3" y2="953.6" stroke="#000" stroke-width="1.9"/><line x1="170.4" y1="951.3" x2="159.3" y2="951.3" stroke="#000" stroke-width="3.0"/><line x1="891.3" y1="951.3" x2="880.3" y2="951.3" stroke="#000" stroke-width="3.0"/><line x1="170.4" y1="936.4" x2="164.9" y2="936.4" stroke="#000" stroke-width="1.9"/><line x1="891.3" y1="936.4" x2="885.3" y2="936.4" stroke="#000" stroke-width="1.9"/><line x1="170.4" y1="927.7" x2="164.9" y2="927.7" stroke="#000" stroke-width="1.9"/><line x1="891.3" y1="927.7" x2="885.3" y2="927.7" stroke="#000" stroke-width="1.9"/><line x1="170.4" y1="921.6" x2="164.9" y2="921.6" stroke="#000" stroke-width="1.9"/><line x1="891.3" y1="921.6" x2="885.3" y2="921.6" stroke="#000" stroke-width="1.9"/><line x1="170.4" y1="916.8" x2="164.9" y2="916.8" stroke="#000" stroke-width="1.9"/><line x1="891.3" y1="916.8" x2="885.3" y2="916.8" stroke="#000" stroke-width="1.9"/><line x1="170.4" y1="912.9" x2="164.9" y2="912.9" stroke="#000" stroke-width="1.9"/><line x1="891.3" y1="912.9" x2="885.3" y2="912.9" stroke="#000" stroke-width="1.9"/><line x1="170.4" y1="909.6" x2="164.9" y2="909.6" stroke="#000" stroke-width="1.9"/><line x1="891.3" y1="909.6" x2="885.3" y2="909.6" stroke="#000" stroke-width="1.9"/><line x1="170.4" y1="906.7" x2="164.9" y2="906.7" stroke="#000" stroke-width="1.9"/><line x1="891.3" y1="906.7" x2="885.3" y2="906.7" stroke="#000" stroke-width="1.9"/><line x1="170.4" y1="904.2" x2="164.9" y2="904.2" stroke="#000" stroke-width="1.9"/><line x1="891.3" y1="904.2" x2="885.3" y2="904.2" stroke="#000" stroke-width="1.9"/><line x1="170.4" y1="901.9" x2="159.3" y2="901.9" stroke="#000" stroke-width="3.0"/><line x1="891.3" y1="901.9" x2="880.3" y2="901.9" stroke="#000" stroke-width="3.0"/><line x1="170.4" y1="887.0" x2="164.9" y2="887.0" stroke="#000" stroke-width="1.9"/><line x1="891.3" y1="887.0" x2="885.3" y2="887.0" stroke="#000" stroke-width="1.9"/><line x1="170.4" y1="878.3" x2="164.9" y2="878.3" stroke="#000" stroke-width="1.9"/><line x1="891.3" y1="878.3" x2="885.3" y2="878.3" stroke="#000" stroke-width="1.9"/><line x1="170.4" y1="872.1" x2="164.9" y2="872.1" stroke="#000" stroke-width="1.9"/><line x1="891.3" y1="872.1" x2="885.3" y2="872.1" stroke="#000" stroke-width="1.9"/><line x1="170.4" y1="867.4" x2="164.9" y2="867.4" stroke="#000" stroke-width="1.9"/><line x1="891.3" y1="867.4" x2="885.3" y2="867.4" stroke="#000" stroke-width="1.9"/><line x1="170.4" y1="863.4" x2="164.9" y2="863.4" stroke="#000" stroke-width="1.9"/><line x1="891.3" y1="863.4" x2="885.3" y2="863.4" stroke="#000" stroke-width="1.9"/><line x1="170.4" y1="860.1" x2="164.9" y2="860.1" stroke="#000" stroke-width="1.9"/><line x1="891.3" y1="860.1" x2="885.3" y2="860.1" stroke="#000" stroke-width="1.9"/><line x1="170.4" y1="857.3" x2="164.9" y2="857.3" stroke="#000" stroke-width="1.9"/><line x1="891.3" y1="857.3" x2="885.3" y2="857.3" stroke="#000" stroke-width="1.9"/><line x1="170.4" y1="854.7" x2="164.9" y2="854.7" stroke="#000" stroke-width="1.9"/><line x1="891.3" y1="854.7" x2="885.3" y2="854.7" stroke="#000" stroke-width="1.9"/><line x1="170.4" y1="852.5" x2="159.3" y2="852.5" stroke="#000" stroke-width="3.0"/><line x1="891.3" y1="852.5" x2="880.3" y2="852.5" stroke="#000" stroke-width="3.0"/><line x1="170.4" y1="837.6" x2="164.9" y2="837.6" stroke="#000" stroke-width="1.9"/><line x1="891.3" y1="837.6" x2="885.3" y2="837.6" stroke="#000" stroke-width="1.9"/><line x1="170.4" y1="828.9" x2="164.9" y2="828.9" stroke="#000" stroke-width="1.9"/><line x1="891.3" y1="828.9" x2="885.3" y2="828.9" stroke="#000" stroke-width="1.9"/><line x1="170.4" y1="822.7" x2="164.9" y2="822.7" stroke="#000" stroke-width="1.9"/><line x1="891.3" y1="822.7" x2="885.3" y2="822.7" stroke="#000" stroke-width="1.9"/><line x1="170.4" y1="817.9" x2="164.9" y2="817.9" stroke="#000" stroke-width="1.9"/><line x1="891.3" y1="817.9" x2="885.3" y2="817.9" stroke="#000" stroke-width="1.9"/><line x1="170.4" y1="814.0" x2="164.9" y2="814.0" stroke="#000" stroke-width="1.9"/><line x1="891.3" y1="814.0" x2="885.3" y2="814.0" stroke="#000" stroke-width="1.9"/><line x1="170.4" y1="810.7" x2="164.9" y2="810.7" stroke="#000" stroke-width="1.9"/><line x1="891.3" y1="810.7" x2="885.3" y2="810.7" stroke="#000" stroke-width="1.9"/><line x1="170.4" y1="807.8" x2="164.9" y2="807.8" stroke="#000" stroke-width="1.9"/><line x1="891.3" y1="807.8" x2="885.3" y2="807.8" stroke="#000" stroke-width="1.9"/><line x1="170.4" y1="805.3" x2="164.9" y2="805.3" stroke="#000" stroke-width="1.9"/><line x1="891.3" y1="805.3" x2="885.3" y2="805.3" stroke="#000" stroke-width="1.9"/><line x1="170.4" y1="803.0" x2="159.3" y2="803.0" stroke="#000" stroke-width="3.0"/><line x1="891.3" y1="803.0" x2="880.3" y2="803.0" stroke="#000" stroke-width="3.0"/><line x1="170.4" y1="788.2" x2="164.9" y2="788.2" stroke="#000" stroke-width="1.9"/><line x1="891.3" y1="788.2" x2="885.3" y2="788.2" stroke="#000" stroke-width="1.9"/><line x1="170.4" y1="779.5" x2="164.9" y2="779.5" stroke="#000" stroke-width="1.9"/><line x1="891.3" y1="779.5" x2="885.3" y2="779.5" stroke="#000" stroke-width="1.9"/><line x1="170.4" y1="773.3" x2="164.9" y2="773.3" stroke="#000" stroke-width="1.9"/><line x1="891.3" y1="773.3" x2="885.3" y2="773.3" stroke="#000" stroke-width="1.9"/><line x1="170.4" y1="768.5" x2="164.9" y2="768.5" stroke="#000" stroke-width="1.9"/><line x1="891.3" y1="768.5" x2="885.3" y2="768.5" stroke="#000" stroke-width="1.9"/><line x1="170.4" y1="764.6" x2="164.9" y2="764.6" stroke="#000" stroke-width="1.9"/><line x1="891.3" y1="764.6" x2="885.3" y2="764.6" stroke="#000" stroke-width="1.9"/><line x1="170.4" y1="761.3" x2="164.9" y2="761.3" stroke="#000" stroke-width="1.9"/><line x1="891.3" y1="761.3" x2="885.3" y2="761.3" stroke="#000" stroke-width="1.9"/><line x1="170.4" y1="758.4" x2="164.9" y2="758.4" stroke="#000" stroke-width="1.9"/><line x1="891.3" y1="758.4" x2="885.3" y2="758.4" stroke="#000" stroke-width="1.9"/><line x1="170.4" y1="755.9" x2="164.9" y2="755.9" stroke="#000" stroke-width="1.9"/><line x1="891.3" y1="755.9" x2="885.3" y2="755.9" stroke="#000" stroke-width="1.9"/><line x1="170.4" y1="753.6" x2="159.3" y2="753.6" stroke="#000" stroke-width="3.0"/><line x1="891.3" y1="753.6" x2="880.3" y2="753.6" stroke="#000" stroke-width="3.0"/><line x1="170.4" y1="738.7" x2="164.9" y2="738.7" stroke="#000" stroke-width="1.9"/><line x1="891.3" y1="738.7" x2="885.3" y2="738.7" stroke="#000" stroke-width="1.9"/><line x1="170.4" y1="730.0" x2="164.9" y2="730.0" stroke="#000" stroke-width="1.9"/><line x1="891.3" y1="730.0" x2="885.3" y2="730.0" stroke="#000" stroke-width="1.9"/><line x1="170.4" y1="723.9" x2="164.9" y2="723.9" stroke="#000" stroke-width="1.9"/><line x1="891.3" y1="723.9" x2="885.3" y2="723.9" stroke="#000" stroke-width="1.9"/><line x1="170.4" y1="719.1" x2="164.9" y2="719.1" stroke="#000" stroke-width="1.9"/><line x1="891.3" y1="719.1" x2="885.3" y2="719.1" stroke="#000" stroke-width="1.9"/><line x1="170.4" y1="715.2" x2="164.9" y2="715.2" stroke="#000" stroke-width="1.9"/><line x1="891.3" y1="715.2" x2="885.3" y2="715.2" stroke="#000" stroke-width="1.9"/><line x1="170.4" y1="711.9" x2="164.9" y2="711.9" stroke="#000" stroke-width="1.9"/><line x1="891.3" y1="711.9" x2="885.3" y2="711.9" stroke="#000" stroke-width="1.9"/><line x1="170.4" y1="709.0" x2="164.9" y2="709.0" stroke="#000" stroke-width="1.9"/><line x1="891.3" y1="709.0" x2="885.3" y2="709.0" stroke="#000" stroke-width="1.9"/><line x1="170.4" y1="706.5" x2="164.9" y2="706.5" stroke="#000" stroke-width="1.9"/><line x1="891.3" y1="706.5" x2="885.3" y2="706.5" stroke="#000" stroke-width="1.9"/><line x1="170.4" y1="704.2" x2="159.3" y2="704.2" stroke="#000" stroke-width="3.0"/><line x1="891.3" y1="704.2" x2="880.3" y2="704.2" stroke="#000" stroke-width="3.0"/><line x1="170.4" y1="689.3" x2="164.9" y2="689.3" stroke="#000" stroke-width="1.9"/><line x1="891.3" y1="689.3" x2="885.3" y2="689.3" stroke="#000" stroke-width="1.9"/><line x1="170.4" y1="680.6" x2="164.9" y2="680.6" stroke="#000" stroke-width="1.9"/><line x1="891.3" y1="680.6" x2="885.3" y2="680.6" stroke="#000" stroke-width="1.9"/><line x1="170.4" y1="674.4" x2="164.9" y2="674.4" stroke="#000" stroke-width="1.9"/><line x1="891.3" y1="674.4" x2="885.3" y2="674.4" stroke="#000" stroke-width="1.9"/><line x1="170.4" y1="669.7" x2="164.9" y2="669.7" stroke="#000" stroke-width="1.9"/><line x1="891.3" y1="669.7" x2="885.3" y2="669.7" stroke="#000" stroke-width="1.9"/><line x1="170.4" y1="665.7" x2="164.9" y2="665.7" stroke="#000" stroke-width="1.9"/><line x1="891.3" y1="665.7" x2="885.3" y2="665.7" stroke="#000" stroke-width="1.9"/><line x1="170.4" y1="662.4" x2="164.9" y2="662.4" stroke="#000" stroke-width="1.9"/><line x1="891.3" y1="662.4" x2="885.3" y2="662.4" stroke="#000" stroke-width="1.9"/><line x1="170.4" y1="659.6" x2="164.9" y2="659.6" stroke="#000" stroke-width="1.9"/><line x1="891.3" y1="659.6" x2="885.3" y2="659.6" stroke="#000" stroke-width="1.9"/><line x1="170.4" y1="657.0" x2="164.9" y2="657.0" stroke="#000" stroke-width="1.9"/><line x1="891.3" y1="657.0" x2="885.3" y2="657.0" stroke="#000" stroke-width="1.9"/><line x1="170.4" y1="654.8" x2="159.3" y2="654.8" stroke="#000" stroke-width="3.0"/><line x1="891.3" y1="654.8" x2="880.3" y2="654.8" stroke="#000" stroke-width="3.0"/><line x1="170.4" y1="639.9" x2="164.9" y2="639.9" stroke="#000" stroke-width="1.9"/><line x1="891.3" y1="639.9" x2="885.3" y2="639.9" stroke="#000" stroke-width="1.9"/><line x1="170.4" y1="631.2" x2="164.9" y2="631.2" stroke="#000" stroke-width="1.9"/><line x1="891.3" y1="631.2" x2="885.3" y2="631.2" stroke="#000" stroke-width="1.9"/><line x1="170.4" y1="625.0" x2="164.9" y2="625.0" stroke="#000" stroke-width="1.9"/><line x1="891.3" y1="625.0" x2="885.3" y2="625.0" stroke="#000" stroke-width="1.9"/><line x1="170.4" y1="620.2" x2="164.9" y2="620.2" stroke="#000" stroke-width="1.9"/><line x1="891.3" y1="620.2" x2="885.3" y2="620.2" stroke="#000" stroke-width="1.9"/><line x1="170.4" y1="616.3" x2="164.9" y2="616.3" stroke="#000" stroke-width="1.9"/><line x1="891.3" y1="616.3" x2="885.3" y2="616.3" stroke="#000" stroke-width="1.9"/><line x1="170.4" y1="613.0" x2="164.9" y2="613.0" stroke="#000" stroke-width="1.9"/><line x1="891.3" y1="613.0" x2="885.3" y2="613.0" stroke="#000" stroke-width="1.9"/><line x1="170.4" y1="610.1" x2="164.9" y2="610.1" stroke="#000" stroke-width="1.9"/><line x1="891.3" y1="610.1" x2="885.3" y2="610.1" stroke="#000" stroke-width="1.9"/><line x1="170.4" y1="607.6" x2="164.9" y2="607.6" stroke="#000" stroke-width="1.9"/><line x1="891.3" y1="607.6" x2="885.3" y2="607.6" stroke="#000" stroke-width="1.9"/><line x1="170.4" y1="605.4" x2="159.3" y2="605.4" stroke="#000" stroke-width="3.0"/><line x1="891.3" y1="605.4" x2="880.3" y2="605.4" stroke="#000" stroke-width="3.0"/><line x1="170.4" y1="590.5" x2="164.9" y2="590.5" stroke="#000" stroke-width="1.9"/><line x1="891.3" y1="590.5" x2="885.3" y2="590.5" stroke="#000" stroke-width="1.9"/><line x1="170.4" y1="581.8" x2="164.9" y2="581.8" stroke="#000" stroke-width="1.9"/><line x1="891.3" y1="581.8" x2="885.3" y2="581.8" stroke="#000" stroke-width="1.9"/><line x1="170.4" y1="575.6" x2="164.9" y2="575.6" stroke="#000" stroke-width="1.9"/><line x1="891.3" y1="575.6" x2="885.3" y2="575.6" stroke="#000" stroke-width="1.9"/><line x1="170.4" y1="570.8" x2="164.9" y2="570.8" stroke="#000" stroke-width="1.9"/><line x1="891.3" y1="570.8" x2="885.3" y2="570.8" stroke="#000" stroke-width="1.9"/><line x1="170.4" y1="566.9" x2="164.9" y2="566.9" stroke="#000" stroke-width="1.9"/><line x1="891.3" y1="566.9" x2="885.3" y2="566.9" stroke="#000" stroke-width="1.9"/><line x1="170.4" y1="563.6" x2="164.9" y2="563.6" stroke="#000" stroke-width="1.9"/><line x1="891.3" y1="563.6" x2="885.3" y2="563.6" stroke="#000" stroke-width="1.9"/><line x1="170.4" y1="560.7" x2="164.9" y2="560.7" stroke="#000" stroke-width="1.9"/><line x1="891.3" y1="560.7" x2="885.3" y2="560.7" stroke="#000" stroke-width="1.9"/><line x1="170.4" y1="558.2" x2="164.9" y2="558.2" stroke="#000" stroke-width="1.9"/><line x1="891.3" y1="558.2" x2="885.3" y2="558.2" stroke="#000" stroke-width="1.9"/><line x1="170.4" y1="555.9" x2="159.3" y2="555.9" stroke="#000" stroke-width="3.0"/><line x1="891.3" y1="555.9" x2="880.3" y2="555.9" stroke="#000" stroke-width="3.0"/><line x1="170.4" y1="541.0" x2="164.9" y2="541.0" stroke="#000" stroke-width="1.9"/><line x1="891.3" y1="541.0" x2="885.3" y2="541.0" stroke="#000" stroke-width="1.9"/><line x1="170.4" y1="532.3" x2="164.9" y2="532.3" stroke="#000" stroke-width="1.9"/><line x1="891.3" y1="532.3" x2="885.3" y2="532.3" stroke="#000" stroke-width="1.9"/><line x1="170.4" y1="526.2" x2="164.9" y2="526.2" stroke="#000" stroke-width="1.9"/><line x1="891.3" y1="526.2" x2="885.3" y2="526.2" stroke="#000" stroke-width="1.9"/><line x1="170.4" y1="521.4" x2="164.9" y2="521.4" stroke="#000" stroke-width="1.9"/><line x1="891.3" y1="521.4" x2="885.3" y2="521.4" stroke="#000" stroke-width="1.9"/><line x1="170.4" y1="517.5" x2="164.9" y2="517.5" stroke="#000" stroke-width="1.9"/><line x1="891.3" y1="517.5" x2="885.3" y2="517.5" stroke="#000" stroke-width="1.9"/><line x1="170.4" y1="514.2" x2="164.9" y2="514.2" stroke="#000" stroke-width="1.9"/><line x1="891.3" y1="514.2" x2="885.3" y2="514.2" stroke="#000" stroke-width="1.9"/><line x1="170.4" y1="511.3" x2="164.9" y2="511.3" stroke="#000" stroke-width="1.9"/><line x1="891.3" y1="511.3" x2="885.3" y2="511.3" stroke="#000" stroke-width="1.9"/><line x1="170.4" y1="508.8" x2="164.9" y2="508.8" stroke="#000" stroke-width="1.9"/><line x1="891.3" y1="508.8" x2="885.3" y2="508.8" stroke="#000" stroke-width="1.9"/><line x1="170.4" y1="506.5" x2="159.3" y2="506.5" stroke="#000" stroke-width="3.0"/><line x1="891.3" y1="506.5" x2="880.3" y2="506.5" stroke="#000" stroke-width="3.0"/>
<text class="tk" x="170.4" y="1139" text-anchor="middle">−10</text>
<text class="tk" x="228.1" y="1139" text-anchor="middle">−8</text>
<text class="tk" x="285.7" y="1139" text-anchor="middle">−6</text>
<text class="tk" x="343.4" y="1139" text-anchor="middle">−4</text>
<text class="tk" x="401.1" y="1139" text-anchor="middle">−2</text>
<text class="tk" x="458.8" y="1139" text-anchor="middle">0</text>
<text class="tk" x="516.4" y="1139" text-anchor="middle">2</text>
<text class="tk" x="574.1" y="1139" text-anchor="middle">4</text>
<text class="tk" x="631.8" y="1139" text-anchor="middle">6</text>
<text class="tk" x="689.4" y="1139" text-anchor="middle">8</text>
<text class="tk" x="747.1" y="1139" text-anchor="middle">10</text>
<text class="tk" x="804.8" y="1139" text-anchor="middle">12</text>
<text class="tk" x="862.5" y="1139" text-anchor="middle">14</text>
<text class="tk" transform="translate(151.3,1109.8) scale(0.975,1)" text-anchor="end">10<tspan font-size="17.2" dy="-10.4">−15</tspan></text>
<text class="tk" transform="translate(151.3,1060.4) scale(0.975,1)" text-anchor="end">10<tspan font-size="17.2" dy="-10.4">−14</tspan></text>
<text class="tk" transform="translate(151.3,1010.9) scale(0.975,1)" text-anchor="end">10<tspan font-size="17.2" dy="-10.4">−13</tspan></text>
<text class="tk" transform="translate(151.3,961.5) scale(0.975,1)" text-anchor="end">10<tspan font-size="17.2" dy="-10.4">−12</tspan></text>
<text class="tk" transform="translate(151.3,912.1) scale(0.975,1)" text-anchor="end">10<tspan font-size="17.2" dy="-10.4">−11</tspan></text>
<text class="tk" transform="translate(151.3,862.7) scale(0.975,1)" text-anchor="end">10<tspan font-size="17.2" dy="-10.4">−10</tspan></text>
<text class="tk" transform="translate(151.3,813.2) scale(0.975,1)" text-anchor="end">10<tspan font-size="17.2" dy="-10.4">−9</tspan></text>
<text class="tk" transform="translate(151.3,763.8) scale(0.975,1)" text-anchor="end">10<tspan font-size="17.2" dy="-10.4">−8</tspan></text>
<text class="tk" transform="translate(151.3,714.4) scale(0.975,1)" text-anchor="end">10<tspan font-size="17.2" dy="-10.4">−7</tspan></text>
<text class="tk" transform="translate(151.3,665.0) scale(0.975,1)" text-anchor="end">10<tspan font-size="17.2" dy="-10.4">−6</tspan></text>
<text class="tk" transform="translate(151.3,615.6) scale(0.975,1)" text-anchor="end">10<tspan font-size="17.2" dy="-10.4">−5</tspan></text>
<text class="tk" transform="translate(151.3,566.1) scale(0.975,1)" text-anchor="end">10<tspan font-size="17.2" dy="-10.4">−4</tspan></text>
<text class="tk" transform="translate(151.3,516.7) scale(0.975,1)" text-anchor="end">10<tspan font-size="17.2" dy="-10.4">−3</tspan></text>
<text class="tk" transform="translate(903.2,516.9) scale(0.972,1)">3.0×10<tspan font-size="17.2" dy="-10.4">−12</tspan></text>
<text class="tk" transform="translate(903.2,615.8) scale(0.972,1)">2.0×10<tspan font-size="17.2" dy="-10.4">−12</tspan></text>
<text class="tk" transform="translate(903.2,714.6) scale(0.972,1)">1.0×10<tspan font-size="17.2" dy="-10.4">−12</tspan></text>
<text class="tk" transform="translate(903.4,811.0)">0.0</text>
<text class="tk" transform="translate(903.2,912.3) scale(0.972,1)">−1.0×10<tspan font-size="17.2" dy="-10.4">−12</tspan></text>
<text class="tk" transform="translate(903.2,1011.1) scale(0.972,1)">−2.0×10<tspan font-size="17.2" dy="-10.4">−12</tspan></text>
<text class="tk" transform="translate(903.2,1110.0) scale(0.972,1)">−3.0×10<tspan font-size="17.2" dy="-10.4">−12</tspan></text>
<text class="ax" x="531.5" y="1187">Vg (V)</text>
<text class="ax" style="font-size:31.2px" transform="translate(80.8,803.2) rotate(-90)">Id (A)</text>
<text class="ax" style="font-size:31.2px" transform="translate(1013.6,803.4) rotate(-90)">Ig (A)</text>
<line x1="181.5" y1="538.4" x2="249" y2="538.4" stroke="#515151" stroke-width="7.2"/>
<text class="lg" x="257.3" y="549.0">Vds = 0.1V</text>
<line x1="181.5" y1="576.4" x2="249" y2="576.4" stroke="#F14040" stroke-width="7.2"/>
<text class="lg" x="257.3" y="587.0">Vds = 2.6V</text>
<line x1="181.5" y1="614.3" x2="249" y2="614.3" stroke="#1A6FDF" stroke-width="7.2"/>
<text class="lg" x="257.3" y="624.9">Vds = 5.1V</text>
<line x1="181.5" y1="652.2" x2="249" y2="652.2" stroke="#37AD6B" stroke-width="7.2"/>
<text class="lg" x="257.3" y="662.9">Vds = 7.6V</text>
<line x1="181.5" y1="690.2" x2="249" y2="690.2" stroke="#B177DE" stroke-width="7.2"/>
<text class="lg" x="257.3" y="700.8">Vds = 10.1V</text>
</svg></body></html>
